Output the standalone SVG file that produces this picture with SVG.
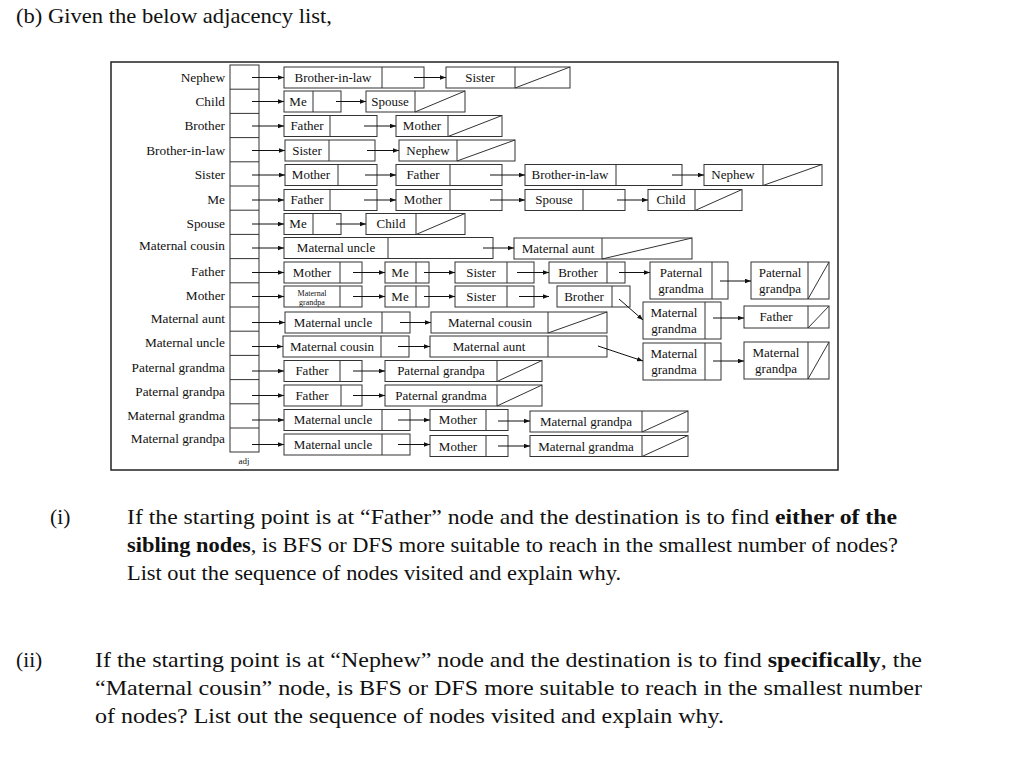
<svg xmlns="http://www.w3.org/2000/svg" width="1024" height="769" viewBox="0 0 1024 769">
<defs><marker id="a" viewBox="0 0 8 6" refX="8" refY="3" markerWidth="6" markerHeight="5" orient="auto"><path d="M0,0L8,3L0,6z" fill="#111"/></marker></defs>
<style>
rect{fill:#fff;stroke:#333;stroke-width:1}
line{stroke:#333;stroke-width:1}
.c line{stroke:#111;marker-end:url(#a)}
text{font-family:"Liberation Serif",serif;fill:#111}
.n{font-size:13px;text-anchor:middle}
.l{font-size:13.3px;text-anchor:end}
.s{font-size:8px;text-anchor:middle}
.q{font-size:21.5px}
</style>
<rect width="1024" height="769" style="fill:#fff;stroke:none"/>
<text class="q" x="16" y="23" textLength="316" lengthAdjust="spacingAndGlyphs">(b) Given the below adjacency list,</text>
<rect x="111" y="62" width="727" height="408" style="fill:none;stroke:#222;stroke-width:1.5"/>
<g id="adj">
<rect x="230" y="65" width="29" height="387"/>
<line x1="230" y1="89.2" x2="259" y2="89.2"/><line x1="230" y1="113.4" x2="259" y2="113.4"/><line x1="230" y1="137.6" x2="259" y2="137.6"/><line x1="230" y1="161.8" x2="259" y2="161.8"/><line x1="230" y1="186" x2="259" y2="186"/><line x1="230" y1="210.2" x2="259" y2="210.2"/><line x1="230" y1="234.4" x2="259" y2="234.4"/><line x1="230" y1="258.6" x2="259" y2="258.6"/><line x1="230" y1="282.8" x2="259" y2="282.8"/><line x1="230" y1="307" x2="259" y2="307"/><line x1="230" y1="331.2" x2="259" y2="331.2"/><line x1="230" y1="355.4" x2="259" y2="355.4"/><line x1="230" y1="379.6" x2="259" y2="379.6"/><line x1="230" y1="403.8" x2="259" y2="403.8"/><line x1="230" y1="428" x2="259" y2="428"/>
<text class="s" x="244" y="464" style="font-size:9px">adj</text>
<text class="l" x="225" y="82">Nephew</text><text class="l" x="225" y="106">Child</text><text class="l" x="225" y="130">Brother</text><text class="l" x="225" y="155">Brother-in-law</text><text class="l" x="225" y="179">Sister</text><text class="l" x="225" y="204">Me</text><text class="l" x="225" y="228">Spouse</text><text class="l" x="225" y="250">Maternal cousin</text><text class="l" x="225" y="276">Father</text><text class="l" x="225" y="300">Mother</text><text class="l" x="225" y="323">Maternal aunt</text><text class="l" x="225" y="347">Maternal uncle</text><text class="l" x="225" y="372">Paternal grandma</text><text class="l" x="225" y="396">Paternal grandpa</text><text class="l" x="225" y="420">Maternal grandma</text><text class="l" x="225" y="443">Maternal grandpa</text>
</g>
<g id="nodes">
<g id="r0"><rect x="284" y="67" width="140" height="21"/><line x1="382" y1="67" x2="382" y2="88"/><text class="n" x="333" y="82">Brother-in-law</text>
<rect x="446" y="67" width="124" height="21"/><line x1="515" y1="67" x2="515" y2="88"/><line x1="515" y1="88" x2="570" y2="67"/><text class="n" x="480" y="82">Sister</text></g>
<g id="r1"><rect x="284" y="91" width="57" height="21"/><line x1="313" y1="91" x2="313" y2="112"/><text class="n" x="298" y="106">Me</text>
<rect x="366" y="91" width="99" height="21"/><line x1="415" y1="91" x2="415" y2="112"/><line x1="415" y1="112" x2="465" y2="91"/><text class="n" x="390" y="106">Spouse</text></g>
<g id="r2"><rect x="284" y="115.5" width="93" height="21"/><line x1="330" y1="115.5" x2="330" y2="136.5"/><text class="n" x="307" y="130">Father</text>
<rect x="396" y="115.5" width="106" height="21"/><line x1="448" y1="115.5" x2="448" y2="136.5"/><line x1="448" y1="136.5" x2="502" y2="115.5"/><text class="n" x="422" y="130">Mother</text></g>
<g id="r3"><rect x="285" y="140" width="90" height="21"/><line x1="329" y1="140" x2="329" y2="161"/><text class="n" x="307" y="155">Sister</text>
<rect x="399" y="140" width="116" height="21"/><line x1="457" y1="140" x2="457" y2="161"/><line x1="457" y1="161" x2="515" y2="140"/><text class="n" x="428" y="155">Nephew</text></g>
<g id="r4"><rect x="285" y="164.5" width="92" height="21"/><line x1="338" y1="164.5" x2="338" y2="185.5"/><text class="n" x="311" y="179">Mother</text>
<rect x="396" y="164.5" width="106" height="21"/><line x1="450" y1="164.5" x2="450" y2="185.5"/><text class="n" x="423" y="179">Father</text>
<rect x="525" y="164.5" width="157" height="21"/><line x1="616" y1="164.5" x2="616" y2="185.5"/><text class="n" x="570" y="179">Brother-in-law</text>
<rect x="704" y="164.5" width="118" height="21"/><line x1="763" y1="164.5" x2="763" y2="185.5"/><line x1="763" y1="185.5" x2="822" y2="164.5"/><text class="n" x="733" y="179">Nephew</text></g>
<g id="r5"><rect x="284" y="189.5" width="93" height="21"/><line x1="330" y1="189.5" x2="330" y2="210.5"/><text class="n" x="307" y="204">Father</text>
<rect x="396" y="189.5" width="106" height="21"/><line x1="450" y1="189.5" x2="450" y2="210.5"/><text class="n" x="423" y="204">Mother</text>
<rect x="525" y="189.5" width="100" height="21"/><line x1="583" y1="189.5" x2="583" y2="210.5"/><text class="n" x="554" y="204">Spouse</text>
<rect x="648" y="189.5" width="94" height="21"/><line x1="695" y1="189.5" x2="695" y2="210.5"/><line x1="695" y1="210.5" x2="742" y2="189.5"/><text class="n" x="671" y="204">Child</text></g>
<g id="r6"><rect x="284" y="213.5" width="57" height="21"/><line x1="313" y1="213.5" x2="313" y2="234.5"/><text class="n" x="298" y="228">Me</text>
<rect x="366" y="213.5" width="99" height="21"/><line x1="416" y1="213.5" x2="416" y2="234.5"/><line x1="416" y1="234.5" x2="465" y2="213.5"/><text class="n" x="391" y="228">Child</text></g>
<g id="r7"><rect x="284" y="237.5" width="209" height="21"/><line x1="388" y1="237.5" x2="388" y2="258.5"/><text class="n" x="336" y="252">Maternal uncle</text>
<rect x="514" y="238" width="178" height="21"/><line x1="602" y1="238" x2="602" y2="259"/><line x1="602" y1="259" x2="692" y2="238"/><text class="n" x="558" y="253">Maternal aunt</text></g>
<g id="r8"><rect x="284" y="262" width="78" height="21"/><line x1="340" y1="262" x2="340" y2="283"/><text class="n" x="312" y="277">Mother</text>
<rect x="385" y="262" width="44" height="21"/><line x1="416" y1="262" x2="416" y2="283"/><text class="n" x="400" y="277">Me</text>
<rect x="455" y="262" width="79" height="21"/><line x1="507" y1="262" x2="507" y2="283"/><text class="n" x="481" y="277">Sister</text>
<rect x="549" y="262" width="76" height="21"/><line x1="607" y1="262" x2="607" y2="283"/><text class="n" x="578" y="277">Brother</text>
<rect x="650" y="262" width="78" height="37"/><line x1="712" y1="262" x2="712" y2="299"/><text class="n" x="681" y="277">Paternal</text><text class="n" x="681" y="293">grandma</text>
<rect x="751" y="262" width="78" height="37"/><line x1="808" y1="262" x2="808" y2="299"/><line x1="808" y1="299" x2="829" y2="262"/><text class="n" x="780" y="277">Paternal</text><text class="n" x="780" y="293">grandpa</text></g>
<g id="r9"><rect x="284" y="286" width="78" height="21"/><line x1="340" y1="286" x2="340" y2="307"/><text class="s" x="312" y="296">Maternal</text><text class="s" x="312" y="305">grandpa</text>
<rect x="385" y="286" width="44" height="21"/><line x1="416" y1="286" x2="416" y2="307"/><text class="n" x="400" y="301">Me</text>
<rect x="455" y="286" width="79" height="21"/><line x1="507" y1="286" x2="507" y2="307"/><text class="n" x="481" y="301">Sister</text>
<rect x="557" y="286" width="73" height="21"/><line x1="612" y1="286" x2="612" y2="307"/><text class="n" x="584" y="301">Brother</text>
<rect x="643" y="302" width="78" height="37"/><line x1="705" y1="302" x2="705" y2="339"/><text class="n" x="674" y="317">Maternal</text><text class="n" x="674" y="333">grandma</text>
<rect x="744" y="306" width="85" height="22"/><line x1="808" y1="306" x2="808" y2="328"/><line x1="808" y1="328" x2="829" y2="306"/><text class="n" x="776" y="321">Father</text></g>
<g id="r10"><rect x="285" y="312" width="125" height="21"/><line x1="382" y1="312" x2="382" y2="333"/><text class="n" x="333" y="327">Maternal uncle</text>
<rect x="431" y="312" width="176" height="21"/><line x1="548" y1="312" x2="548" y2="333"/><line x1="548" y1="333" x2="607" y2="312"/><text class="n" x="490" y="327">Maternal cousin</text></g>
<g id="r11"><rect x="283" y="336" width="126" height="21"/><line x1="381" y1="336" x2="381" y2="357"/><text class="n" x="332" y="351">Maternal cousin</text>
<rect x="430" y="336" width="177" height="21"/><line x1="548" y1="336" x2="548" y2="357"/><text class="n" x="489" y="351">Maternal aunt</text>
<rect x="643" y="343" width="78" height="37"/><line x1="705" y1="343" x2="705" y2="380"/><text class="n" x="674" y="358">Maternal</text><text class="n" x="674" y="374">grandma</text>
<rect x="744" y="342" width="85" height="37"/><line x1="808" y1="342" x2="808" y2="379"/><line x1="808" y1="379" x2="829" y2="342"/><text class="n" x="776" y="357">Maternal</text><text class="n" x="776" y="373">grandpa</text></g>
<g id="r12"><rect x="284" y="360.5" width="78" height="21"/><line x1="340" y1="360.5" x2="340" y2="381.5"/><text class="n" x="312" y="375">Father</text>
<rect x="385" y="360.5" width="157" height="21"/><line x1="497" y1="360.5" x2="497" y2="381.5"/><line x1="497" y1="381.5" x2="542" y2="360.5"/><text class="n" x="441" y="375">Paternal grandpa</text></g>
<g id="r13"><rect x="284" y="385" width="78" height="21"/><line x1="341" y1="385" x2="341" y2="406"/><text class="n" x="312" y="400">Father</text>
<rect x="385" y="385" width="157" height="21"/><line x1="497" y1="385" x2="497" y2="406"/><line x1="497" y1="406" x2="542" y2="385"/><text class="n" x="441" y="400">Paternal grandma</text></g>
<g id="r14"><rect x="284" y="409.5" width="126" height="21"/><line x1="382" y1="409.5" x2="382" y2="430.5"/><text class="n" x="333" y="424">Maternal uncle</text>
<rect x="430" y="409.5" width="78" height="21"/><line x1="486" y1="409.5" x2="486" y2="430.5"/><text class="n" x="458" y="424">Mother</text>
<rect x="530" y="411" width="158" height="21"/><line x1="642" y1="411" x2="642" y2="432"/><line x1="642" y1="432" x2="688" y2="411"/><text class="n" x="586" y="426">Maternal grandpa</text></g>
<g id="r15"><rect x="284" y="434" width="126" height="21"/><line x1="382" y1="434" x2="382" y2="455"/><text class="n" x="333" y="449">Maternal uncle</text>
<rect x="430" y="435.5" width="78" height="21"/><line x1="486" y1="435.5" x2="486" y2="456.5"/><text class="n" x="458" y="451">Mother</text>
<rect x="530" y="435.5" width="158" height="21"/><line x1="642" y1="435.5" x2="642" y2="456.5"/><line x1="642" y1="456.5" x2="688" y2="435.5"/><text class="n" x="586" y="451">Maternal grandma</text></g>
</g>
<g id="connectors" class="c">
<line x1="252" y1="77.5" x2="284" y2="77.5"/><line x1="252" y1="101.5" x2="284" y2="101.5"/><line x1="252" y1="126" x2="284" y2="126"/><line x1="252" y1="150.5" x2="285" y2="150.5"/><line x1="252" y1="175" x2="285" y2="175"/><line x1="252" y1="200" x2="284" y2="200"/><line x1="252" y1="224" x2="284" y2="224"/><line x1="252" y1="248" x2="284" y2="248"/><line x1="252" y1="272.5" x2="284" y2="272.5"/><line x1="252" y1="296.5" x2="284" y2="296.5"/><line x1="252" y1="322.5" x2="285" y2="322.5"/><line x1="252" y1="346.5" x2="283" y2="346.5"/><line x1="252" y1="371" x2="284" y2="371"/><line x1="252" y1="395.5" x2="284" y2="395.5"/><line x1="252" y1="420" x2="284" y2="420"/><line x1="252" y1="444.5" x2="284" y2="444.5"/>
<line x1="414" y1="77.5" x2="446" y2="77.5"/>
<line x1="336" y1="101.5" x2="366" y2="101.5"/>
<line x1="364" y1="126" x2="396" y2="126"/>
<line x1="367" y1="150.5" x2="399" y2="150.5"/>
<line x1="365" y1="175" x2="396" y2="175"/><line x1="490" y1="175" x2="525" y2="175"/><line x1="672" y1="175" x2="704" y2="175"/>
<line x1="364" y1="200" x2="396" y2="200"/><line x1="490" y1="200" x2="525" y2="200"/><line x1="617" y1="200" x2="648" y2="200"/>
<line x1="336" y1="224" x2="366" y2="224"/>
<line x1="483" y1="248" x2="514" y2="248"/>
<line x1="353" y1="272.5" x2="385" y2="272.5"/><line x1="424" y1="272.5" x2="455" y2="272.5"/><line x1="517" y1="272.5" x2="549" y2="272.5"/><line x1="619" y1="272.5" x2="650" y2="272.5"/><line x1="720" y1="281" x2="751" y2="281"/>
<line x1="353" y1="296.5" x2="385" y2="296.5"/><line x1="424" y1="296.5" x2="455" y2="296.5"/><line x1="519" y1="296.5" x2="549" y2="296.5"/><line x1="619" y1="299" x2="643" y2="320"/><line x1="713" y1="318" x2="744" y2="318"/>
<line x1="400" y1="322.5" x2="431" y2="322.5"/>
<line x1="398" y1="346.5" x2="430" y2="346.5"/><line x1="598" y1="346" x2="643" y2="361"/><line x1="713" y1="361" x2="744" y2="361"/>
<line x1="353" y1="371" x2="385" y2="371"/>
<line x1="353" y1="395.5" x2="385" y2="395.5"/>
<line x1="398" y1="420" x2="430" y2="420"/><line x1="498" y1="421" x2="530" y2="421"/>
<line x1="398" y1="444.5" x2="430" y2="444.5"/><line x1="498" y1="446" x2="530" y2="446"/>
</g>
<text class="q" x="50" y="524">(i)</text>
<text class="q" x="127" y="524" textLength="770" lengthAdjust="spacingAndGlyphs">If the starting point is at “Father” node and the destination is to find <tspan font-weight="bold">either of the</tspan></text>
<text class="q" x="127" y="552" textLength="771" lengthAdjust="spacingAndGlyphs"><tspan font-weight="bold">sibling nodes</tspan>, is BFS or DFS more suitable to reach in the smallest number of nodes?</text>
<text class="q" x="127" y="580" textLength="494" lengthAdjust="spacingAndGlyphs">List out the sequence of nodes visited and explain why.</text>
<text class="q" x="16" y="667">(ii)</text>
<text class="q" x="95" y="667" textLength="827" lengthAdjust="spacingAndGlyphs">If the starting point is at “Nephew” node and the destination is to find <tspan font-weight="bold">specifically</tspan>, the</text>
<text class="q" x="95" y="695" textLength="827" lengthAdjust="spacingAndGlyphs">“Maternal cousin” node, is BFS or DFS more suitable to reach in the smallest number</text>
<text class="q" x="95" y="723" textLength="629" lengthAdjust="spacingAndGlyphs">of nodes? List out the sequence of nodes visited and explain why.</text>
</svg>
